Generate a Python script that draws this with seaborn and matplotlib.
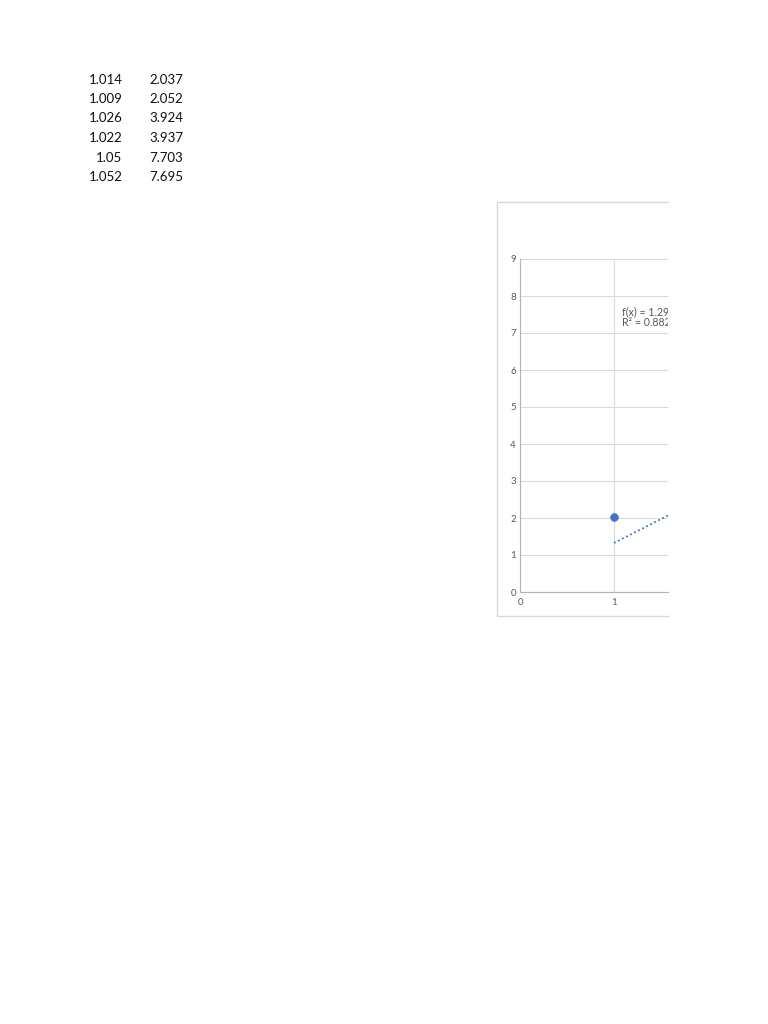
import numpy as np
import pandas as pd
import matplotlib
matplotlib.use('Agg')
import matplotlib.pyplot as plt
from matplotlib.lines import Line2D
import seaborn as sns

# Spreadsheet cells (two columns)
col_a = [1.014, 1.009, 1.026, 1.022, 1.05, 1.052]
col_b = [2.037, 2.052, 3.924, 3.937, 7.703, 7.695]
col_a_text = ['1.014', '1.009', '1.026', '1.022', '1.05', '1.052']
col_b_text = ['2.037', '2.052', '3.924', '3.937', '7.703', '7.695']

# chart plots column B against point index 1..6
point_idx = list(range(1, len(col_b) + 1))
y_ticks = list(range(0, 10))
x_ticks = [0, 1]

df = pd.DataFrame({'x': point_idx, 'y': col_b})

# linear trend line, like the spreadsheet one
slope, intercept = np.polyfit(df['x'], df['y'], 1)
pred = slope * df['x'] + intercept
r2 = 1 - ((df['y'] - pred) ** 2).sum() / ((df['y'] - df['y'].mean()) ** 2).sum()
trend = pd.DataFrame({'x': [df['x'].min(), df['x'].max()]})
trend['y'] = slope * trend['x'] + intercept

sns.set_style('white')
plt.rcParams['font.family'] = ['Lato', 'DejaVu Sans']

W, H = 768, 1024
fig = plt.figure(figsize=(W / 100, H / 100), dpi=100)

# --- table cells ---
row_y = [79.5, 99, 118.5, 138, 157.5, 177]
for ya, a, b in zip(row_y, col_a_text, col_b_text):
    fig.text(122.5 / W, 1 - ya / H, a, ha='right', va='center', fontsize=9.5, color='#111111')
    fig.text(183 / W, 1 - ya / H, b, ha='right', va='center', fontsize=9.5, color='#111111')

# --- chart frame (cut by the page edge at x=668) ---
frame_col = '#d9d9d9'
fig.add_artist(Line2D([497 / W, 668 / W], [1 - 202 / H, 1 - 202 / H], color=frame_col, lw=1))
fig.add_artist(Line2D([497 / W, 668 / W], [1 - 616 / H, 1 - 616 / H], color=frame_col, lw=1))
fig.add_artist(Line2D([497 / W, 497 / W], [1 - 202 / H, 1 - 616 / H], color=frame_col, lw=1))

# --- plot area ---
left, right, top, bottom = 520, 668, 259, 592
ax = fig.add_axes([left / W, 1 - bottom / H, (right - left) / W, (bottom - top) / H])
x_right = (right - left) / 94.0
ax.set_xlim(0, x_right)
ax.set_ylim(0, 9)

sns.lineplot(data=trend, x='x', y='y', ax=ax, color='#4472c4', lw=1.3,
             linestyle=(0, (1, 1.5)), zorder=2)
sns.scatterplot(data=df, x='x', y='y', ax=ax, color='#4472c4', s=32,
                edgecolor='#4472c4', zorder=3)

ax.set_yticks(y_ticks)
ax.set_xticks(x_ticks)
ax.grid(True, color='#d9d9d9', lw=0.8)
ax.set_axisbelow(True)
for s in ['top', 'right']:
    ax.spines[s].set_visible(False)
for s in ['left', 'bottom']:
    ax.spines[s].set_color('#b3b3b3')
    ax.spines[s].set_linewidth(0.8)
ax.tick_params(axis='both', length=0, labelsize=7, labelcolor='#595959', pad=3)
ax.tick_params(axis='x', pad=4)
ax.set_xlabel('')
ax.set_ylabel('')

eq = f'f(x) = {slope:.4f}x + {intercept:.4f}\nR² = {r2:.4f}'
ax.text((622 - left) / 94.0, 7.42, eq, fontsize=7.6, color='#595959',
        va='center', ha='left', linespacing=1.0, clip_on=True)

fig.savefig('out.png', dpi=100)
